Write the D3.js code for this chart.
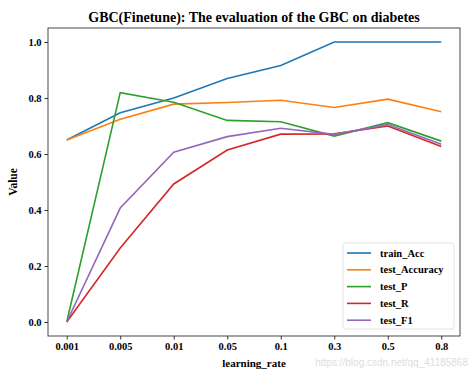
<!DOCTYPE html>
<html>
<head>
<meta charset="utf-8"/>
<script src="https://d3js.org/d3.v7.min.js"></script>
<style>
    body { margin: 0; background: #fff; }
    text { font-family: "Liberation Serif", "Times New Roman", serif; font-weight: bold; }
</style>
</head>
<body>
<svg width="474" height="375"></svg>
<script>
    // datos
    const rates = ["0.001", "0.005", "0.01", "0.05", "0.1", "0.3", "0.5", "0.8"];
    const trainAcc = [0.65, 0.747, 0.80, 0.87, 0.916, 1.0, 1.0, 1.0];
    const testAccuracy = [0.65, 0.724, 0.778, 0.784, 0.792, 0.766, 0.796, 0.751];
    const testP = [0.0, 0.819, 0.785, 0.72, 0.715, 0.664, 0.712, 0.646];
    const testR = [0.0, 0.264, 0.493, 0.614, 0.671, 0.672, 0.70, 0.627];
    const testF1 = [0.0, 0.407, 0.606, 0.662, 0.692, 0.67, 0.705, 0.635];
    const yTicks = [0.0, 0.2, 0.4, 0.6, 0.8, 1.0];

    const series = [
        {name: "train_Acc", values: trainAcc, color: "#1f77b4"},
        {name: "test_Accuracy", values: testAccuracy, color: "#ff7f0e"},
        {name: "test_P", values: testP, color: "#2ca02c"},
        {name: "test_R", values: testR, color: "#d62728"},
        {name: "test_F1", values: testF1, color: "#9467bd"}
    ];

    const mLeft = 48, mRight = 460, mTop = 28, mBottom = 336;
    const svg = d3.select("svg");

    // escalas (con el margen de 5% como matplotlib)
    const x = d3.scaleLinear().domain([-0.35, rates.length - 1 + 0.35]).range([mLeft, mRight]);
    const y = d3.scaleLinear().domain([-0.05, 1.05]).range([mBottom, mTop]);

    // eje X
    const xAxis = d3.axisBottom(x)
        .tickValues(d3.range(rates.length))
        .tickFormat(i => rates[i])
        .tickSizeOuter(0).tickSize(3.5).tickPadding(3);
    svg.append("g")
        .attr("transform", "translate(0," + mBottom + ")")
        .call(xAxis)
        .call(g => g.select(".domain").remove())
        .selectAll("text").style("font-size", "10.5px").attr("fill", "#000");

    // eje Y
    const yAxis = d3.axisLeft(y)
        .tickValues(yTicks)
        .tickFormat(d3.format(".1f"))
        .tickSizeOuter(0).tickSize(3.5).tickPadding(3);
    svg.append("g")
        .attr("transform", "translate(" + mLeft + ",0)")
        .call(yAxis)
        .call(g => g.select(".domain").remove())
        .selectAll("text").style("font-size", "10.5px").attr("fill", "#000");

    svg.selectAll(".tick line").attr("stroke", "#000").attr("stroke-width", 0.8);

    // lineas
    const line = d3.line()
        .x((d, i) => x(i))
        .y(d => y(d));

    series.forEach(s => {
        svg.append("path")
            .attr("d", line(s.values))
            .attr("fill", "none")
            .attr("stroke", s.color)
            .attr("stroke-width", 1.6);
    });

    // marco
    svg.append("rect")
        .attr("x", mLeft).attr("y", mTop)
        .attr("width", mRight - mLeft).attr("height", mBottom - mTop)
        .attr("fill", "none").attr("stroke", "#333").attr("stroke-width", 0.9);

    // titulo y etiquetas
    svg.append("text")
        .attr("x", (mLeft + mRight) / 2).attr("y", 22)
        .attr("text-anchor", "middle")
        .style("font-size", "14px")
        .text("GBC(Finetune): The evaluation of the GBC on diabetes");

    svg.append("text")
        .attr("x", (mLeft + mRight) / 2).attr("y", 367)
        .attr("text-anchor", "middle")
        .style("font-size", "11px")
        .text("learning_rate");

    svg.append("text")
        .attr("transform", "translate(17," + ((mTop + mBottom) / 2) + ") rotate(-90)")
        .attr("text-anchor", "middle")
        .style("font-size", "11.5px")
        .text("Value");

    // leyenda
    const legend = svg.append("g").attr("transform", "translate(343,243)");
    legend.append("rect")
        .attr("width", 111).attr("height", 86).attr("rx", 2)
        .attr("fill", "#fff").attr("fill-opacity", 0.8)
        .attr("stroke", "#ddd").attr("stroke-width", 0.8);
    series.forEach((s, i) => {
        const row = legend.append("g").attr("transform", "translate(0," + (10 + i * 16.8) + ")");
        row.append("line")
            .attr("x1", 4).attr("x2", 28)
            .attr("stroke", s.color).attr("stroke-width", 1.6);
        row.append("text")
            .attr("x", 37).attr("y", 3.5)
            .style("font-size", "10.5px")
            .text(s.name);
    });

    // marca de agua
    svg.append("text")
        .attr("x", 468).attr("y", 366)
        .attr("text-anchor", "end")
        .style("font-family", "Liberation Sans, Arial, sans-serif")
        .style("font-weight", "normal")
        .style("font-size", "10px")
        .attr("fill", "#ddd")
        .text("https://blog.csdn.net/qq_41185868");
</script>
</body>
</html>
